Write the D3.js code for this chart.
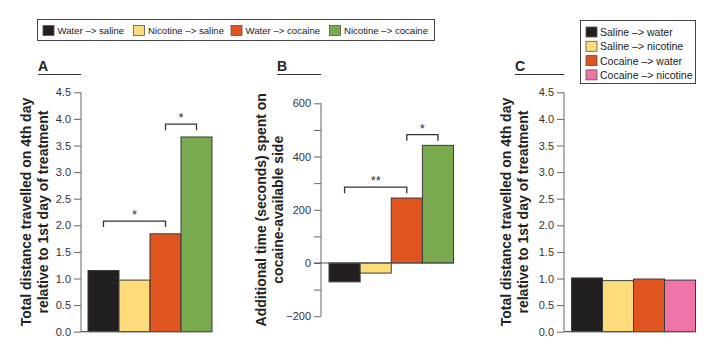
<!DOCTYPE html>
<html>
<head>
<meta charset="utf-8">
<script src="https://cdn.jsdelivr.net/npm/d3@7"></script>
<style>
  body { margin: 0; background: #fff; }
  svg { font-family: "Liberation Sans", Arial, Helvetica, sans-serif; }
</style>
</head>
<body>
<div id="chart"></div>
<script>
// data
const groupsAB = ["Water –> saline", "Nicotine –> saline", "Water –> cocaine", "Nicotine –> cocaine"];
const groupsC = ["Saline –> water", "Saline –> nicotine", "Cocaine –> water", "Cocaine –> nicotine"];
const colorsAB = ["#231f20", "#fedc7b", "#df541f", "#79aa50"];
const colorsC = ["#231f20", "#fedc7b", "#df541f", "#ef75a8"];

const valuesA = [1.15, 0.97, 1.84, 3.66];
const valuesB = [-71, -38, 244, 442];
const valuesC = [1.01, 0.96, 0.99, 0.97];

const ticksAC = [0, 0.5, 1.0, 1.5, 2.0, 2.5, 3.0, 3.5, 4.0, 4.5];
const ticksB = [-200, -100, 0, 100, 200, 300, 400, 500, 600];
const labelTicksB = [-200, 0, 200, 400, 600];

// significance brackets: from bar i to bar j at value y
const sigA = [{from: 0, to: 2, y: 2.08, label: "*"}, {from: 2, to: 3, y: 3.9, label: "*"}];
const sigB = [{from: 0, to: 2, y: 285, label: "**"}, {from: 2, to: 3, y: 482, label: "*"}];

const titleAC = ["Total distance travelled on 4th day", "relative to 1st day of treatment"];
const titleB = ["Additional time (seconds) spent on", "cocaine-available side"];

const width = 720, height = 354;
const svg = d3.select("#chart").append("svg")
    .attr("width", width)
    .attr("height", height);

function drawPanel(opt) {
    const x = d3.scaleBand()
        .domain(d3.range(opt.values.length))
        .range([opt.barLeft, opt.barRight])
        .paddingInner(0);
    const y = d3.scaleLinear()
        .domain(opt.domain)
        .range([opt.bottom, opt.top]);

    const g = svg.append("g");

    // y axis
    const axis = d3.axisLeft(y)
        .tickValues(opt.ticks)
        .tickSize(7)
        .tickPadding(3)
        .tickFormat(d => opt.labelTicks.includes(d) ? opt.fmt(d) : "");
    const ax = g.append("g")
        .attr("transform", "translate(" + opt.axisX + ",0)")
        .call(axis);
    ax.select(".domain").attr("stroke", "#666").attr("d", "M0," + y(opt.domain[0]) + "V" + y(opt.domain[1]));
    ax.selectAll(".tick line").attr("stroke", "#666");
    ax.selectAll(".tick text")
        .attr("fill", "#333")
        .style("font-size", "11px");

    // bars
    g.selectAll(".bar")
        .data(opt.values)
        .enter().append("rect")
        .attr("x", (d, i) => x(i))
        .attr("width", x.bandwidth())
        .attr("y", d => y(Math.max(0, d)))
        .attr("height", d => Math.abs(y(d) - y(0)))
        .attr("fill", (d, i) => opt.colors[i])
        .attr("stroke", "#3a3a3a")
        .attr("stroke-width", 1);

    // baseline
    g.append("line")
        .attr("x1", opt.axisX - (opt.domain[0] < 0 ? 7 : 0))
        .attr("x2", opt.barRight)
        .attr("y1", y(0))
        .attr("y2", y(0))
        .attr("stroke", "#555")
        .attr("stroke-width", 1.2);

    // significance brackets
    (opt.sig || []).forEach(s => {
        const x1 = x(s.from) + x.bandwidth() / 2;
        const x2 = x(s.to) + x.bandwidth() / 2;
        const yy = y(s.y);
        g.append("path")
            .attr("d", "M" + x1 + "," + (yy + 6) + "V" + yy + "H" + x2 + "V" + (yy + 6))
            .attr("fill", "none")
            .attr("stroke", "#333")
            .attr("stroke-width", 1.3);
        g.append("text")
            .attr("x", (x1 + x2) / 2)
            .attr("y", yy - 2)
            .attr("text-anchor", "middle")
            .attr("fill", "#333")
            .style("font-size", "13px")
            .text(s.label);
    });

    // panel letter
    g.append("text")
        .attr("x", opt.letterX)
        .attr("y", 71)
        .attr("font-weight", "bold")
        .style("font-size", "14px")
        .attr("fill", "#222")
        .text(opt.letter);
    g.append("line")
        .attr("x1", opt.letterX)
        .attr("x2", opt.axisX)
        .attr("y1", 74.5)
        .attr("y2", 74.5)
        .attr("stroke", "#333")
        .attr("stroke-width", 1.2);

    // y title
    const cy = (opt.top + opt.bottom) / 2;
    opt.title.forEach((line, i) => {
        g.append("text")
            .attr("transform", "translate(" + (opt.titleX + i * 17) + "," + cy + ") rotate(-90)")
            .attr("text-anchor", "middle")
            .attr("font-weight", "bold")
            .attr("fill", "#222")
            .style("font-size", "14px")
            .text(line);
    });
}

drawPanel({
    letter: "A", letterX: 38, axisX: 81,
    barLeft: 88, barRight: 212,
    domain: [0, 4.5], top: 92.3, bottom: 331.7,
    ticks: ticksAC, labelTicks: ticksAC, fmt: d3.format(".1f"),
    values: valuesA, colors: colorsAB, sig: sigA,
    title: titleAC, titleX: 31
});

drawPanel({
    letter: "B", letterX: 277, axisX: 321,
    barLeft: 329, barRight: 453.5,
    domain: [-200, 600], top: 103.3, bottom: 316.2,
    ticks: ticksB, labelTicks: labelTicksB, fmt: d3.format("d"),
    values: valuesB, colors: colorsAB, sig: sigB,
    title: titleB, titleX: 266
});

drawPanel({
    letter: "C", letterX: 515, axisX: 564,
    barLeft: 571.5, barRight: 695.5,
    domain: [0, 4.5], top: 92.3, bottom: 331.7,
    ticks: ticksAC, labelTicks: ticksAC, fmt: d3.format(".1f"),
    values: valuesC, colors: colorsC, sig: [],
    title: titleAC, titleX: 510.5
});

// legend top (panels A, B)
const leg1 = svg.append("g");
leg1.append("rect")
    .attr("x", 37.5).attr("y", 19.5)
    .attr("width", 397).attr("height", 21)
    .attr("fill", "#fff").attr("stroke", "#444");
const leg1X = [43, 133.5, 231, 329.5];
groupsAB.forEach((name, i) => {
    leg1.append("rect")
        .attr("x", leg1X[i]).attr("y", 25.5)
        .attr("width", 11).attr("height", 10)
        .attr("fill", colorsAB[i]).attr("stroke", "#555").attr("stroke-width", 0.8);
    leg1.append("text")
        .attr("x", leg1X[i] + 14.5).attr("y", 34.2)
        .attr("fill", "#222")
        .style("font-size", "9.6px")
        .text(name);
});

// legend right (panel C)
const leg2 = svg.append("g");
leg2.append("rect")
    .attr("x", 580.5).attr("y", 20.5)
    .attr("width", 115).attr("height", 63)
    .attr("fill", "#fff").attr("stroke", "#444");
groupsC.forEach((name, i) => {
    leg2.append("rect")
        .attr("x", 586).attr("y", 27 + i * 14.3)
        .attr("width", 11).attr("height", 10)
        .attr("fill", colorsC[i]).attr("stroke", "#555").attr("stroke-width", 0.8);
    leg2.append("text")
        .attr("x", 600).attr("y", 36 + i * 14.3)
        .attr("fill", "#222")
        .style("font-size", "10.5px")
        .text(name);
});
</script>
</body>
</html>
